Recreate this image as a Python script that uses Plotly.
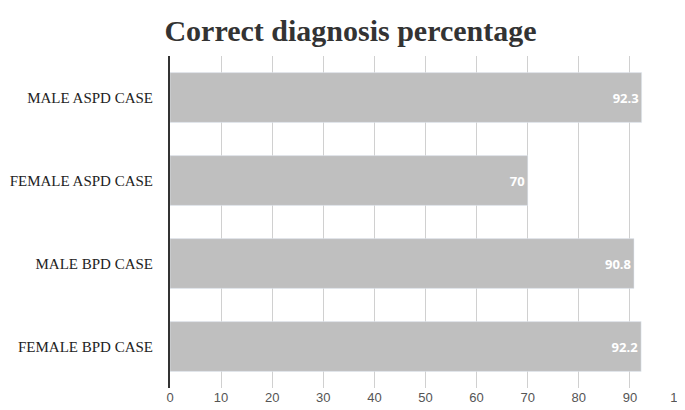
import plotly.graph_objects as go

categories = ["FEMALE BPD CASE", "MALE BPD CASE", "FEMALE ASPD CASE", "MALE ASPD CASE"]
values = [92.2, 90.8, 70, 92.3]
labels = ["92.2", "90.8", "70", "92.3"]

fig = go.Figure(go.Bar(
    x=values, y=categories, orientation="h",
    marker_color="#bfbfbf",
    text=["<b>%s</b>" % s for s in labels], textposition="inside", insidetextanchor="end",
    textfont=dict(color="white", size=13, family="Open Sans"),
))
fig.update_layout(
    width=685, height=410,
    margin=dict(l=162, r=12, t=48, b=30),
    plot_bgcolor="white", paper_bgcolor="white",
    bargap=0.4, showlegend=False,
    title=dict(text="<b>Correct diagnosis percentage</b>", x=0.5, y=0.97, xanchor="center",
               font=dict(family="Liberation Serif", size=30, color="#333333")),
)
fig.update_xaxes(range=[0, 100], dtick=10, showgrid=True, gridcolor="#d0d0d0",
                 tickfont=dict(family="Liberation Sans", size=13, color="#555555"),
                 zeroline=False, showline=False, ticks="", automargin=False)
fig.update_yaxes(showline=True, linecolor="#333333", linewidth=2, ticks="", automargin=False,
                 ticklabelstandoff=12,
                 tickfont=dict(family="Liberation Serif", size=15, color="#222222"))
fig.write_html("out.html")
